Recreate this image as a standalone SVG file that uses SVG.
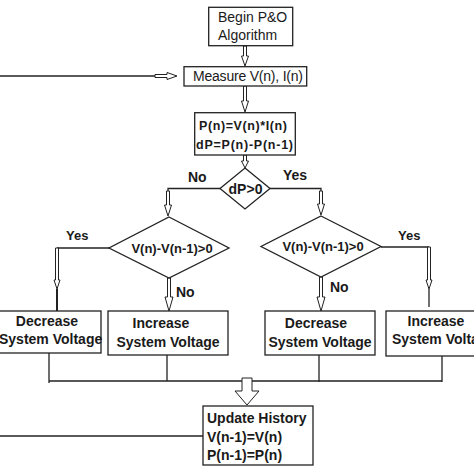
<svg xmlns="http://www.w3.org/2000/svg" width="474" height="474" viewBox="0 0 474 474">
<style>
.box{fill:#fff;stroke:#222;stroke-width:1.3}
.ln{fill:none;stroke:#222;stroke-width:1.3}
.ar{fill:#fff;stroke:#222;stroke-width:1}
text{font-family:"Liberation Sans",Arial,sans-serif;fill:#1a1a1a;font-size:14px}
.b{font-weight:bold}
.m{text-anchor:middle}
</style>
<rect width="474" height="474" fill="#fff"/>
<g id="connectors">
<path class="ln" d="M0 76H155"/>
<path class="ar" d="M155 74.5H167V72.5L177 76L167 79.5V77.5H155Z"/>
<path class="ar" d="M243.5 46V56H241.5L245 66L248.5 56H246.5V46Z"/>
<path class="ar" d="M243.5 86V101H241.5L245 112L248.5 101H246.5V86Z"/>
<path class="ar" d="M243.5 155V161H241.5L245 168L248.5 161H246.5V155Z"/>
<path class="ln" d="M220 188.5H168V191"/>
<path class="ar" d="M166.5 191V205H164.5L168 216L171.5 205H169.5V191Z"/>
<path class="ln" d="M270 188.5H321V191"/>
<path class="ar" d="M319.5 191V204H317.5L321 215L324.5 204H322.5V191Z"/>
<path class="ln" d="M109 248H57"/>
<path class="ar" d="M55.5 248V280H54L57 289L60 280H58.5V248Z"/>
<path class="ln" d="M57 289V311" style="stroke-width:2"/>
<path class="ar" d="M167.5 278V297H165L169 311L173 297H170.5V278Z"/>
<path class="ar" d="M319.5 277V297H317L321 311L325 297H322.5V277Z"/>
<path class="ln" d="M381 247H429"/>
<path class="ar" d="M427.5 247V280H426L429 289L432 280H430.5V247Z"/>
<path class="ln" d="M429 289V307"/>
<path class="ln" d="M49 353V383M167 355V381M319 355V382M442 356V382M49 381H442"/>
<path class="ar" d="M242 378V391H235L247 405L259 391H252V378Z"/>
<path class="ln" d="M0 436H203"/>
</g>
<g id="begin">
<rect class="box" x="208.7" y="7.3" width="84" height="38.4"/>
<text x="218" y="22">Begin P&amp;O</text>
<text x="218" y="40">Algorithm</text>
</g>
<g id="measure">
<rect class="box" x="184" y="66.7" width="122.7" height="19.3"/>
<text x="193" y="81" textLength="110">Measure V(n), I(n)</text>
</g>
<g id="power">
<rect class="box" x="194.7" y="112.7" width="100.6" height="42.3"/>
<text class="b" x="199" y="130" style="font-size:12.5px" textLength="88">P(n)=V(n)*I(n)</text>
<text class="b" x="196" y="149" style="font-size:12.5px" textLength="97">dP=P(n)-P(n-1)</text>
</g>
<g id="dp">
<polygon class="box" points="245,168 270,188.5 245,209 220,188.5"/>
<text class="b m" x="245.5" y="193.5">dP&gt;0</text>
<text class="b" x="188" y="182">No</text>
<text class="b" x="283" y="180">Yes</text>
</g>
<g id="dv-left">
<polygon class="box" points="169,217 229,248 169,278 109,248"/>
<text class="b m" x="172" y="252.5" style="font-size:13px">V(n)-V(n-1)&gt;0</text>
<text class="b" x="66" y="240" style="font-size:13px">Yes</text>
<text class="b" x="176" y="297">No</text>
</g>
<g id="dv-right">
<polygon class="box" points="321,216 381,246.5 321,277 261,246.5"/>
<text class="b m" x="323" y="251" style="font-size:13px">V(n)-V(n-1)&gt;0</text>
<text class="b" x="398" y="240" style="font-size:13px">Yes</text>
<text class="b" x="330" y="292">No</text>
</g>
<g id="dec1">
<rect class="box" x="-2" y="311" width="103" height="42"/>
<text class="b m" x="47" y="326">Decrease</text>
<text class="b" x="-1" y="344">System Voltage</text>
</g>
<g id="inc1">
<rect class="box" x="108" y="311" width="120" height="44"/>
<text class="b m" x="161" y="328">Increase</text>
<text class="b m" x="168" y="347">System Voltage</text>
</g>
<g id="dec2">
<rect class="box" x="265" y="311" width="110" height="44"/>
<text class="b m" x="316" y="328">Decrease</text>
<text class="b m" x="320" y="347">System Voltage</text>
</g>
<g id="inc2">
<rect class="box" x="386" y="311" width="100" height="45"/>
<text class="b m" x="436" y="326">Increase</text>
<text class="b" x="392" y="344">System Voltage</text>
</g>
<g id="update">
<rect class="box" x="203" y="406" width="110" height="59"/>
<text class="b" x="207" y="423">Update History</text>
<text class="b" x="207" y="442">V(n-1)=V(n)</text>
<text class="b" x="207" y="460">P(n-1)=P(n)</text>
</g>
</svg>
